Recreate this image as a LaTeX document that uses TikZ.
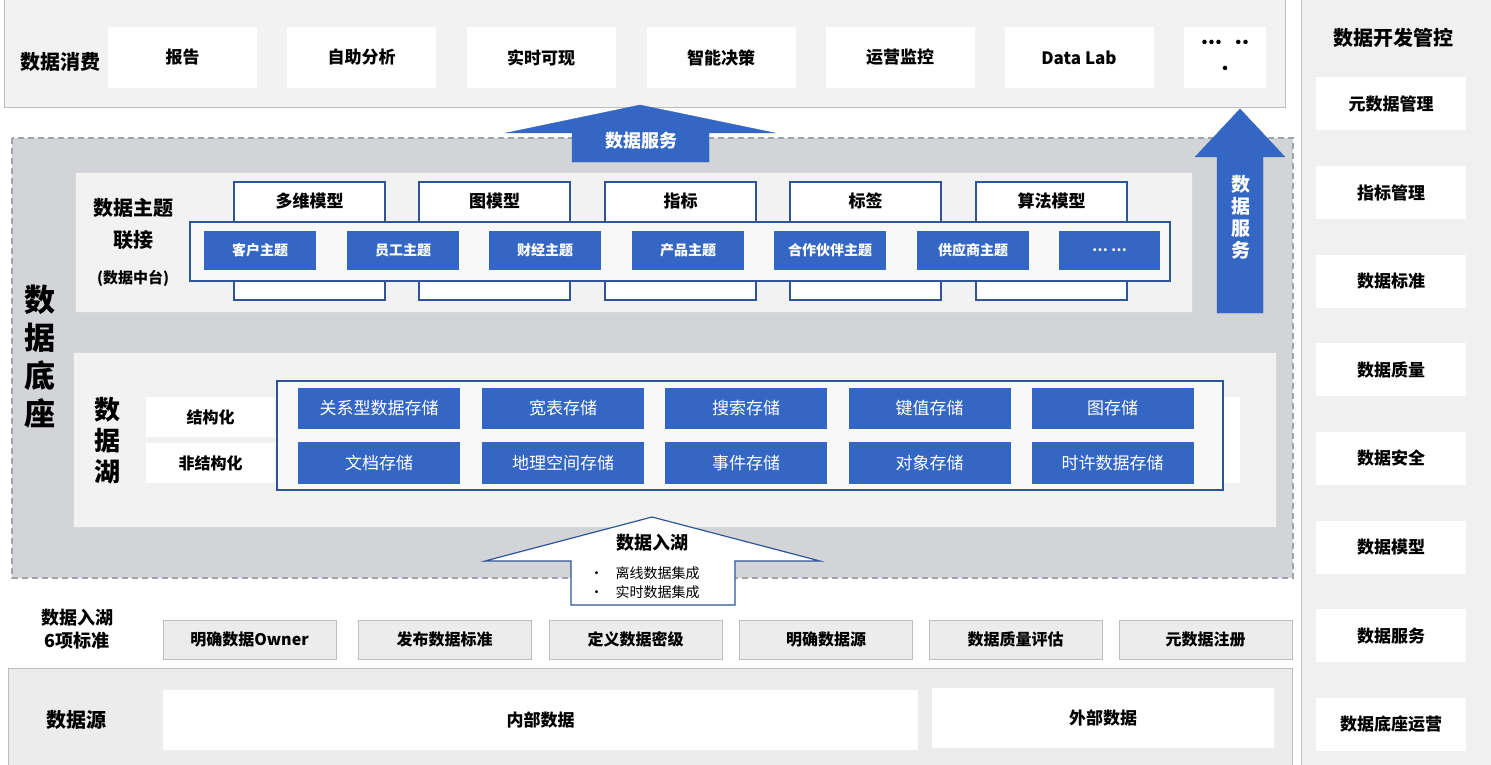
\documentclass[tikz,border=0pt]{standalone}
\usepackage{fontspec}
\setmainfont{Noto Sans CJK SC}
\definecolor{dblue}{RGB}{52,102,196}
\definecolor{lineblue}{RGB}{47,85,151}
\definecolor{panelgray}{RGB}{242,242,242}
\definecolor{sidegray}{RGB}{240,240,240}
\definecolor{basegray}{RGB}{210,212,216}
\definecolor{dashgray}{RGB}{160,163,168}
\definecolor{edgegray}{RGB}{190,190,190}
\definecolor{stdgray}{RGB}{236,236,236}
\newcommand{\fs}[1]{\fontsize{#1}{#1}\selectfont}
\newcommand{\fsl}[2]{\fontsize{#1}{#2}\selectfont}
\newcommand{\dt}{•\kern-9pt}
\tikzset{
  panel/.style={fill=panelgray, draw=edgegray, line width=0.8pt},
  title/.style={font=\bfseries\fs{20}, align=center},
  consbox/.style={fill=white, inner sep=0pt, minimum width=149pt, minimum height=61pt, font=\bfseries\fs{17}},
  sidebox/.style={fill=white, inner sep=0pt, minimum width=150pt, minimum height=53pt, font=\bfseries\fs{17}},
  modelbox/.style={fill=white, draw=lineblue, line width=1.2pt, inner sep=0pt, minimum width=151pt, minimum height=118pt},
  themebox/.style={fill=dblue, text=white, inner sep=0pt, minimum width=112pt, minimum height=39pt, font=\bfseries\fs{14}},
  storebox/.style={fill=dblue, text=white, inner sep=0pt, minimum width=162pt, minimum height=41pt, font=\fs{17}},
  stdbox/.style={fill=stdgray, draw=edgegray, line width=0.8pt, inner sep=0pt, minimum width=173pt, minimum height=39pt, font=\bfseries\fs{16}},
  arrowblue/.style={fill=dblue, draw=dblue, line join=miter}
}
\begin{document}
\begin{tikzpicture}[x=1pt, y=-1pt]
  \useasboundingbox (0,0) rectangle (1491,765);
  \fill[white] (0,0) rectangle (1491,765);
  % right column
  \fill[sidegray] (1302,0) rectangle (1491,765);
  \draw[edgegray, line width=1pt] (1301,0) -- (1301,765);
  \node[title] (dev) at (1393,38) {数据开发管控};
  \foreach \t [count=\i] in {元数据管理, 指标管理, 数据标准, 数据质量, 数据安全, 数据模型, 数据服务, 数据底座运营}
    \node[sidebox] (s\i) at (1391,{104+88.6*(\i-1)}) {\t};
  % consumption
  \draw[panel] (4,-5) rectangle (1285,107);
  \node[title] (cons) at (60,62) {数据消费};
  \foreach \x/\t [count=\i] in {182.5/报告, 361.5/自助分析, 541/实时可现, 721/智能决策, 900/运营监控, 1079/Data Lab}
    \node[consbox] (c\i) at (\x,57.5) {\t};
  \node[consbox, minimum width=82pt, align=center, font=\bfseries\fsl{16}{26}] (c7) at (1225,57.5) {\dt\dt•\hspace{4pt}\dt•\\•};
  % data base
  \draw[fill=basegray, draw=dashgray, line width=2.2pt, dash pattern=on 6pt off 4pt] (12,138) rectangle (1293,578);
  \node[font=\bfseries\fs{31}, align=center, inner sep=0pt] (base) at (40,357)
    {数\\[7pt]据\\[7pt]底\\[7pt]座};
  % themes
  \fill[panelgray] (75,172) rectangle (1192,312);
  \draw[edgegray!60, line width=0.6pt] (75,172) rectangle (1192,312);
  \node[title, font=\bfseries\fsl{20}{32}] (topic) at (133,224) {数据主题\\联接};
  \node[font=\bfseries\fs{15}] (mid) at (133,278) {(数据中台)};
  \foreach \x/\t [count=\i] in {309.5/多维模型, 494.5/图模型, 680.5/指标, 865.5/标签, 1051.5/算法模型} {
    \node[modelbox] (m\i) at (\x,241) {};
    \node[font=\bfseries\fs{17}] (ml\i) at (\x,201) {\t};
  }
  \node[fill=panelgray!50, draw=lineblue, line width=1.2pt, inner sep=0pt, minimum width=980pt, minimum height=59pt] (band) at (680,251.5) {};
  \foreach \x/\t [count=\i] in {260/客户主题, 403/员工主题, 545/财经主题, 688/产品主题, 830/合作伙伴主题, 973/供应商主题}
    \node[themebox] (t\i) at (\x,250.5) {\t};
  \node[themebox, minimum width=101pt] (t7) at (1109.5,250.5) {… …};
  % data lake
  \fill[panelgray] (73,352) rectangle (1276,527);
  \draw[edgegray!60, line width=0.6pt] (73,352) rectangle (1276,527);
  \fill[white] (1223,397) rectangle (1240,483);
  \node[font=\bfseries\fs{26}, align=center, inner sep=0pt] (lake) at (107,441) {数\\[5pt]据\\[5pt]湖};
  \node[fill=white, inner sep=0pt, minimum width=129pt, minimum height=40pt, font=\bfseries\fs{16}] (st) at (210.5,417) {结构化};
  \node[fill=white, inner sep=0pt, minimum width=129pt, minimum height=40pt, font=\bfseries\fs{16}] (un) at (210.5,463) {非结构化};
  \node[fill=panelgray!50, draw=lineblue, line width=1.2pt, inner sep=0pt, minimum width=946pt, minimum height=109pt] (frame) at (750,435.5) {};
  \foreach \x/\t/\u [count=\i] in {379/关系型数据存储/文档存储, 563/宽表存储/地理空间存储, 746/搜索存储/事件存储, 929.5/键值存储/对象存储, 1112.5/图存储/时许数据存储} {
    \node[storebox] (a\i) at (\x,408.5) {\t};
    \node[storebox, minimum height=42pt] (b\i) at (\x,463) {\u};
  }
  % arrows
  \fill[arrowblue] (572,162) -- (572,133) -- (506,133) -- (640,105) -- (775,133) -- (709,133) -- (709,162) -- cycle;
  \node[text=white, font=\bfseries\fs{18}] (srv) at (641,141) {数据服务};
  \fill[arrowblue] (1217,313) -- (1217,157) -- (1195,157) -- (1240,109) -- (1285,157) -- (1263,157) -- (1263,313) -- cycle;
  \node[text=white, font=\bfseries\fs{19}, align=center, inner sep=0pt] (srv2) at (1241,217) {数\\[3pt]据\\[3pt]服\\[3pt]务};
  \draw[fill=white, draw=lineblue, line width=1.2pt] (571,605) -- (571,561) -- (485,561) -- (652,517) -- (820,561) -- (735,561) -- (735,605) -- cycle;
  \node[font=\bfseries\fs{18}] (inlake) at (652,543) {数据入湖};
  \node[font=\fsl{14}{19}, align=left, anchor=west] (ways) at (586,582.5) {•\hspace{12pt}离线数据集成\\•\hspace{12pt}实时数据集成};
  % standards
  \node[font=\bfseries\fsl{18}{23}, align=center] (std) at (77,629.5) {数据入湖\\6项标准};
  \foreach \x/\t [count=\i] in {249.5/明确数据Owner, 444.5/发布数据标准, 635.5/定义数据密级, 826/明确数据源, 1015.5/数据质量评估, 1205.5/元数据注册}
    \node[stdbox] (d\i) at (\x,639.5) {\t};
  % sources
  \draw[fill=stdgray, draw=edgegray, line width=0.8pt] (8,668) rectangle (1292,772);
  \node[title] (src) at (76,720) {数据源};
  \node[fill=white, inner sep=0pt, minimum width=755pt, minimum height=60pt, font=\bfseries\fs{17}] (inner) at (540.5,720) {内部数据};
  \node[fill=white, inner sep=0pt, minimum width=342pt, minimum height=60pt, font=\bfseries\fs{17}] (outer) at (1103,718) {外部数据};
\end{tikzpicture}
\end{document}
